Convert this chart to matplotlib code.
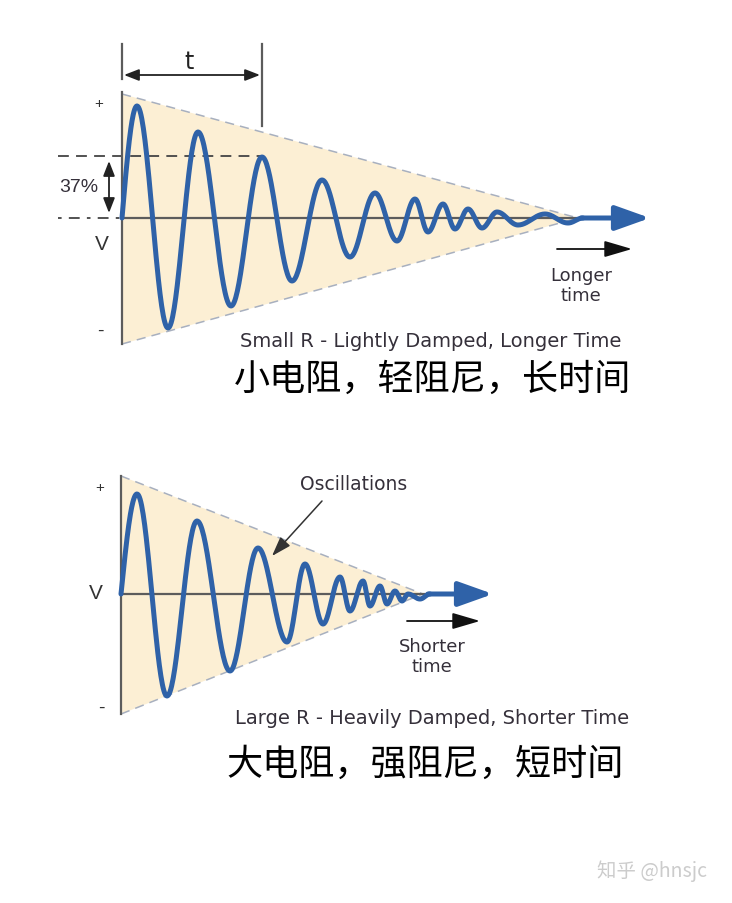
import numpy as np
import matplotlib.pyplot as plt

# Panel data (pixels, relative to each panel origin)
# t = distance along time axis, v = voltage (up is positive)
top_t = [0, 15, 46, 76, 109, 140, 170, 200, 228, 253, 275, 293, 306, 321, 333,
         346, 360, 375, 396, 423, 446, 461]
top_v = [0, 112, -110, 86, -88, 61, -63, 38, -39, 25, -23, 19, -14, 14, -11,
         9, -10, 6, -7, 4, -5, 0]
top_env = [124, -126, 456]        # upper, lower, apex t
top_origin = (122, 219)
top_tip = 528

bot_t = [0, 16, 46, 76, 109, 137, 166, 184, 202, 219, 229, 242, 249, 259, 266,
         274, 281, 287, 299, 309]
bot_v = [0, 100, -102, 73, -77, 46, -48, 30, -30, 17, -17, 13, -12, 8, -10,
         3, -7, 0, -5, 0]
bot_env = [118, -120, 302]
bot_origin = (121, 595)
bot_tip = 372

blue = '#2f62a8'
fill_c = '#fcefd4'
env_c = '#a8b0bf'
axis_c = '#5c5c5c'
txt_c = '#35303a'
sans = 'DejaVu Sans'
cjk = ['Noto Sans CJK SC', 'DejaVu Sans']

fig = plt.figure(figsize=(7.32, 9.04), dpi=100)
ax = fig.add_axes([0, 0, 1, 1])
ax.set_xlim(0, 732)
ax.set_ylim(904, 0)
ax.axis('off')


def wave(ts, vs):
    xs, ys = [], []
    for i in range(len(ts) - 1):
        s = np.linspace(0, 1, 40)
        shape = np.sin(np.pi / 2 * s) if i == 0 else (1 - np.cos(np.pi * s)) / 2
        xs.append(ts[i] + (ts[i + 1] - ts[i]) * s)
        ys.append(vs[i] + (vs[i + 1] - vs[i]) * shape)
    return np.concatenate(xs), np.concatenate(ys)


def panel(origin, ts, vs, env, tip, axis_top):
    x0, y0 = origin
    up, lo, apex = env
    # shaded envelope
    ax.fill([x0, x0 + apex, x0], [y0 - up, y0, y0 - lo], color=fill_c, lw=0, zorder=1)
    ax.plot([x0, x0 + apex], [y0 - up, y0], color=env_c, lw=1.1, ls=(0, (6, 4)), zorder=2)
    ax.plot([x0, x0 + apex], [y0 - lo, y0], color=env_c, lw=1.1, ls=(0, (6, 4)), zorder=2)
    # axes
    ax.plot([x0, x0], [axis_top, y0 - lo], color=axis_c, lw=1.6, zorder=3)
    ax.plot([x0, x0 + ts[-1]], [y0, y0], color=axis_c, lw=1.6, zorder=3)
    # signal
    wx, wy = wave(ts, vs)
    ax.plot(x0 + wx, y0 - wy, color=blue, lw=3.6, solid_capstyle='round', zorder=4)
    ax.annotate('', xy=(x0 + tip, y0), xytext=(x0 + ts[-1] - 2, y0),
                arrowprops=dict(arrowstyle='-|>,head_length=2.1,head_width=0.75',
                                color=blue, lw=3.6, shrinkA=0, shrinkB=0), zorder=4)


panel(top_origin, top_t, top_v, top_env, top_tip, 93)
panel(bot_origin, bot_t, bot_v, bot_env, bot_tip, 477)

# top panel: time constant markers
ax.plot([122, 122], [45, 80], color=axis_c, lw=1.6)
ax.plot([262, 262], [45, 127], color=axis_c, lw=1.6)
ax.annotate('', xy=(124, 76), xytext=(260, 76),
            arrowprops=dict(arrowstyle='<|-|>,head_length=0.9,head_width=0.35',
                            color='#222222', lw=1.3, shrinkA=0, shrinkB=0))
ax.text(189, 62, 't', fontsize=17, ha='center', va='center', color='#222222',
        family=sans)
ax.plot([58, 262], [157, 157], color='#444444', lw=1.3, ls=(0, (6, 4)))
ax.plot([58, 122], [219, 219], color='#444444', lw=1.3, ls=(0, (2, 4, 6, 4)))
ax.annotate('', xy=(109, 162), xytext=(109, 214),
            arrowprops=dict(arrowstyle='<|-|>,head_length=0.9,head_width=0.35',
                            color='#222222', lw=1.3, shrinkA=0, shrinkB=0))
ax.text(79, 187, '37%', fontsize=14, ha='center', va='center', color=txt_c,
        family='Liberation Sans')

# axis signs
for (x, y, s, fs) in [(99, 104, '+', 11), (102, 244, 'V', 15), (100, 331, '-', 14),
                      (100, 488, '+', 11), (96, 594, 'V', 15), (101, 708, '-', 14)]:
    ax.text(x, y, s, fontsize=fs, ha='center', va='center', color='#333333',
            family='Liberation Sans')

# time arrows
for (xa, xb, y, tx, ty, label) in [(557, 632, 250, 581, 286, 'Longer\ntime'),
                                   (407, 480, 622, 432, 657, 'Shorter\ntime')]:
    ax.annotate('', xy=(xb, y), xytext=(xa, y),
                arrowprops=dict(arrowstyle='-|>,head_length=1.7,head_width=0.5',
                                color='#111111', lw=1.3, shrinkA=0, shrinkB=0))
    ax.text(tx, ty, label, fontsize=13, ha='center', va='center', color=txt_c,
            family=sans, linespacing=1.15)

# oscillations label
ax.text(354, 485, 'Oscillations', fontsize=13.5, ha='center', va='center', color=txt_c,
        family=sans)
ax.annotate('', xy=(272, 557), xytext=(322, 502),
            arrowprops=dict(arrowstyle='-|>,head_length=1.2,head_width=0.4',
                            color='#333333', lw=1.1, shrinkA=0, shrinkB=0))

# captions
ax.text(431, 342, 'Small R - Lightly Damped, Longer Time', fontsize=14, ha='center',
        va='center', color=txt_c, family=sans)
ax.text(433, 380, '小电阻，轻阻尼，长时间', fontsize=26, ha='center', va='center',
        color='black', family=cjk)
ax.text(432, 719, 'Large R - Heavily Damped, Shorter Time', fontsize=14, ha='center',
        va='center', color=txt_c, family=sans)
ax.text(425, 765, '大电阻，强阻尼，短时间', fontsize=26, ha='center', va='center',
        color='black', family=cjk)

ax.text(652, 871, '知乎 @hnsjc', fontsize=14, ha='center', va='center', color='#cccccc',
        family=cjk)

fig.savefig('out.png', dpi=100)
